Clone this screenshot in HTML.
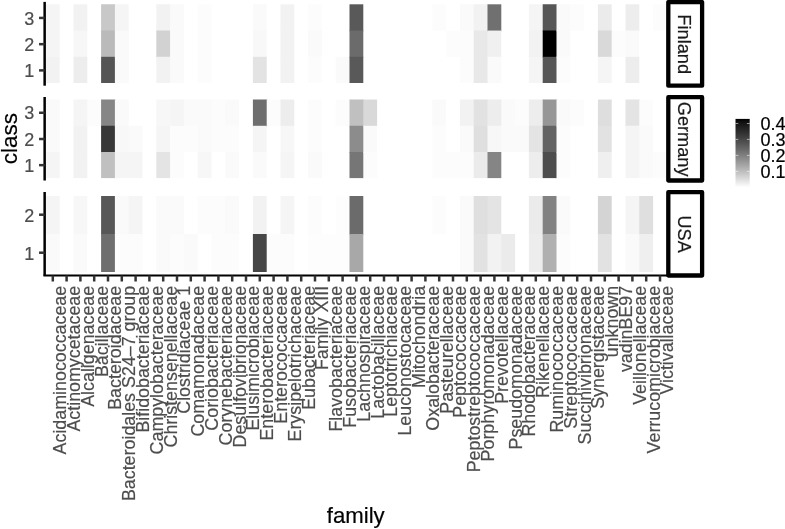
<!DOCTYPE html>
<html><head><meta charset="utf-8"><title>family by class heatmap</title>
<style>html,body{margin:0;padding:0;background:#fff;}svg{display:block;}</style></head>
<body>
<svg width="785" height="529" viewBox="0 0 785 529" font-family="'Liberation Sans', Arial, Helvetica, sans-serif">
<rect width="785" height="529" fill="#fff"/>
<g>
<rect x="45.90" y="4.30" width="13.80" height="26.95" fill="#f5f5f5"/>
<rect x="45.90" y="30.55" width="13.80" height="26.95" fill="#f5f5f5"/>
<rect x="45.90" y="56.80" width="13.80" height="26.20" fill="#f2f2f2"/>
<rect x="73.50" y="4.30" width="13.80" height="26.95" fill="#f2f2f2"/>
<rect x="73.50" y="30.55" width="13.80" height="26.95" fill="#f7f7f7"/>
<rect x="73.50" y="56.80" width="13.80" height="26.20" fill="#ededed"/>
<path d="M101.10 4.30h14.50v26.25h-0.70v0.70h-13.80z" fill="#c8c8c8"/>
<path d="M101.10 30.55h14.50v26.25h-0.70v0.70h-13.80z" fill="#bababa"/>
<rect x="101.10" y="56.80" width="14.50" height="26.20" fill="#555555"/>
<rect x="114.90" y="4.30" width="13.80" height="26.95" fill="#f5f5f5"/>
<rect x="114.90" y="30.55" width="13.80" height="26.95" fill="#fafafa"/>
<rect x="114.90" y="56.80" width="13.80" height="26.20" fill="#fafafa"/>
<path d="M156.30 4.30h14.50v26.25h-0.70v0.70h-13.80z" fill="#f2f2f2"/>
<path d="M156.30 30.55h14.50v26.25h-0.70v0.70h-13.80z" fill="#d2d2d2"/>
<rect x="156.30" y="56.80" width="14.50" height="26.20" fill="#f2f2f2"/>
<rect x="170.10" y="4.30" width="13.80" height="26.95" fill="#fafafa"/>
<rect x="170.10" y="30.55" width="13.80" height="26.95" fill="#fafafa"/>
<rect x="170.10" y="56.80" width="13.80" height="26.20" fill="#fafafa"/>
<rect x="197.70" y="4.30" width="13.80" height="26.95" fill="#fcfcfc"/>
<rect x="197.70" y="30.55" width="13.80" height="26.95" fill="#fcfcfc"/>
<rect x="197.70" y="56.80" width="13.80" height="26.20" fill="#fcfcfc"/>
<rect x="252.90" y="4.30" width="13.80" height="26.95" fill="#fafafa"/>
<rect x="252.90" y="30.55" width="13.80" height="26.95" fill="#f8f8f8"/>
<rect x="252.90" y="56.80" width="13.80" height="26.20" fill="#e3e3e3"/>
<rect x="280.50" y="4.30" width="13.80" height="26.95" fill="#f2f2f2"/>
<rect x="280.50" y="30.55" width="13.80" height="26.95" fill="#f2f2f2"/>
<rect x="280.50" y="56.80" width="13.80" height="26.20" fill="#f2f2f2"/>
<rect x="308.10" y="4.30" width="13.80" height="26.95" fill="#fcfcfc"/>
<rect x="308.10" y="30.55" width="13.80" height="26.95" fill="#fafafa"/>
<rect x="308.10" y="56.80" width="13.80" height="26.20" fill="#fcfcfc"/>
<rect x="335.70" y="56.80" width="14.50" height="26.20" fill="#fafafa"/>
<rect x="349.50" y="4.30" width="13.80" height="26.95" fill="#595959"/>
<rect x="349.50" y="30.55" width="13.80" height="26.95" fill="#6b6b6b"/>
<rect x="349.50" y="56.80" width="13.80" height="26.20" fill="#595959"/>
<rect x="432.30" y="4.30" width="13.80" height="26.25" fill="#fcfcfc"/>
<rect x="446.10" y="30.55" width="14.50" height="26.25" fill="#fcfcfc"/>
<path d="M459.90 4.30h14.50v26.25h-0.70v0.70h-13.80z" fill="#fafafa"/>
<path d="M459.90 30.55h14.50v26.25h-0.70v0.70h-13.80z" fill="#fcfcfc"/>
<rect x="459.90" y="56.80" width="14.50" height="26.20" fill="#fcfcfc"/>
<path d="M473.70 4.30h14.50v26.25h-0.70v0.70h-13.80z" fill="#f2f2f2"/>
<path d="M473.70 30.55h14.50v26.25h-0.70v0.70h-13.80z" fill="#e8e8e8"/>
<rect x="473.70" y="56.80" width="14.50" height="26.20" fill="#e8e8e8"/>
<rect x="487.50" y="4.30" width="13.80" height="26.95" fill="#707070"/>
<rect x="487.50" y="30.55" width="13.80" height="26.95" fill="#f0f0f0"/>
<rect x="487.50" y="56.80" width="13.80" height="26.20" fill="#fafafa"/>
<path d="M528.90 4.30h14.50v26.25h-0.70v0.70h-13.80z" fill="#f5f5f5"/>
<path d="M528.90 30.55h14.50v26.25h-0.70v0.70h-13.80z" fill="#f2f2f2"/>
<rect x="528.90" y="56.80" width="14.50" height="26.20" fill="#f5f5f5"/>
<path d="M542.70 4.30h14.50v26.25h-0.70v0.70h-13.80z" fill="#565656"/>
<path d="M542.70 30.55h14.50v26.25h-0.70v0.70h-13.80z" fill="#000000"/>
<rect x="542.70" y="56.80" width="14.50" height="26.20" fill="#565656"/>
<path d="M556.50 4.30h14.50v26.25h-0.70v0.70h-13.80z" fill="#fafafa"/>
<rect x="556.50" y="30.55" width="13.80" height="26.95" fill="#fafafa"/>
<rect x="556.50" y="56.80" width="13.80" height="26.20" fill="#fcfcfc"/>
<rect x="570.30" y="4.30" width="13.80" height="26.25" fill="#fcfcfc"/>
<rect x="597.90" y="4.30" width="13.80" height="26.95" fill="#ebebeb"/>
<path d="M597.90 30.55h14.50v26.25h-0.70v0.70h-13.80z" fill="#d9d9d9"/>
<rect x="597.90" y="56.80" width="13.80" height="26.20" fill="#f5f5f5"/>
<rect x="611.70" y="30.55" width="14.50" height="26.25" fill="#fcfcfc"/>
<rect x="625.50" y="4.30" width="13.80" height="26.95" fill="#ededed"/>
<rect x="625.50" y="30.55" width="13.80" height="26.95" fill="#fafafa"/>
<rect x="625.50" y="56.80" width="13.80" height="26.20" fill="#ededed"/>
<rect x="653.10" y="4.30" width="13.80" height="26.25" fill="#fcfcfc"/>
<rect x="45.90" y="99.55" width="13.80" height="26.95" fill="#fafafa"/>
<rect x="45.90" y="125.80" width="13.80" height="26.90" fill="#fafafa"/>
<rect x="45.90" y="152.00" width="13.80" height="26.10" fill="#f5f5f5"/>
<path d="M73.50 99.55h14.50v26.25h-0.70v0.70h-13.80z" fill="#f5f5f5"/>
<rect x="73.50" y="125.80" width="13.80" height="26.90" fill="#f2f2f2"/>
<rect x="73.50" y="152.00" width="13.80" height="26.10" fill="#f2f2f2"/>
<rect x="87.30" y="99.55" width="14.50" height="26.25" fill="#fcfcfc"/>
<path d="M101.10 99.55h14.50v26.25h-0.70v0.70h-13.80z" fill="#868686"/>
<path d="M101.10 125.80h14.50v26.20h-0.70v0.70h-13.80z" fill="#383838"/>
<rect x="101.10" y="152.00" width="14.50" height="26.10" fill="#c0c0c0"/>
<rect x="114.90" y="99.55" width="13.80" height="26.95" fill="#fafafa"/>
<path d="M114.90 125.80h14.50v26.20h-0.70v0.70h-13.80z" fill="#f8f8f8"/>
<rect x="114.90" y="152.00" width="14.50" height="26.10" fill="#f5f5f5"/>
<rect x="128.70" y="125.80" width="13.80" height="26.90" fill="#fafafa"/>
<rect x="128.70" y="152.00" width="13.80" height="26.10" fill="#f5f5f5"/>
<path d="M156.30 99.55h14.50v26.25h-0.70v0.70h-13.80z" fill="#f7f7f7"/>
<path d="M156.30 125.80h14.50v26.20h-0.70v0.70h-13.80z" fill="#f5f5f5"/>
<rect x="156.30" y="152.00" width="14.50" height="26.10" fill="#e4e4e4"/>
<path d="M170.10 99.55h14.50v26.25h-0.70v0.70h-13.80z" fill="#f5f5f5"/>
<path d="M170.10 125.80h14.50v26.20h-0.70v0.70h-13.80z" fill="#fcfcfc"/>
<rect x="170.10" y="152.00" width="13.80" height="26.10" fill="#fcfcfc"/>
<path d="M183.90 99.55h14.50v26.25h-0.70v0.70h-13.80z" fill="#fafafa"/>
<rect x="183.90" y="125.80" width="14.50" height="26.20" fill="#fcfcfc"/>
<path d="M197.70 99.55h14.50v26.25h-0.70v0.70h-13.80z" fill="#fafafa"/>
<path d="M197.70 125.80h14.50v26.20h-0.70v0.70h-13.80z" fill="#fafafa"/>
<rect x="197.70" y="152.00" width="13.80" height="26.10" fill="#f7f7f7"/>
<path d="M211.50 99.55h14.50v26.25h-0.70v0.70h-13.80z" fill="#fcfcfc"/>
<rect x="211.50" y="125.80" width="14.50" height="26.20" fill="#fcfcfc"/>
<rect x="225.30" y="99.55" width="13.80" height="26.95" fill="#fafafa"/>
<rect x="225.30" y="125.80" width="13.80" height="26.90" fill="#fcfcfc"/>
<rect x="225.30" y="152.00" width="13.80" height="26.10" fill="#fafafa"/>
<path d="M252.90 99.55h14.50v26.25h-0.70v0.70h-13.80z" fill="#6e6e6e"/>
<rect x="252.90" y="125.80" width="13.80" height="26.90" fill="#f5f5f5"/>
<rect x="252.90" y="152.00" width="13.80" height="26.10" fill="#fafafa"/>
<rect x="266.70" y="99.55" width="14.50" height="26.25" fill="#fcfcfc"/>
<rect x="280.50" y="99.55" width="13.80" height="26.95" fill="#ededed"/>
<rect x="280.50" y="125.80" width="13.80" height="26.90" fill="#f7f7f7"/>
<rect x="280.50" y="152.00" width="13.80" height="26.10" fill="#f5f5f5"/>
<rect x="308.10" y="99.55" width="13.80" height="26.95" fill="#fcfcfc"/>
<rect x="308.10" y="125.80" width="13.80" height="26.90" fill="#fcfcfc"/>
<rect x="308.10" y="152.00" width="13.80" height="26.10" fill="#fafafa"/>
<rect x="335.70" y="99.55" width="14.50" height="26.25" fill="#fcfcfc"/>
<path d="M349.50 99.55h14.50v26.25h-0.70v0.70h-13.80z" fill="#c0c0c0"/>
<path d="M349.50 125.80h14.50v26.20h-0.70v0.70h-13.80z" fill="#8c8c8c"/>
<rect x="349.50" y="152.00" width="14.50" height="26.10" fill="#767676"/>
<rect x="363.30" y="99.55" width="13.80" height="26.95" fill="#d9d9d9"/>
<rect x="363.30" y="125.80" width="13.80" height="26.90" fill="#fafafa"/>
<rect x="363.30" y="152.00" width="13.80" height="26.10" fill="#fcfcfc"/>
<rect x="432.30" y="99.55" width="13.80" height="26.95" fill="#fafafa"/>
<rect x="432.30" y="125.80" width="13.80" height="26.90" fill="#fcfcfc"/>
<rect x="432.30" y="152.00" width="14.50" height="26.10" fill="#fcfcfc"/>
<rect x="446.10" y="152.00" width="14.50" height="26.10" fill="#fcfcfc"/>
<path d="M459.90 99.55h14.50v26.25h-0.70v0.70h-13.80z" fill="#f2f2f2"/>
<path d="M459.90 125.80h14.50v26.20h-0.70v0.70h-13.80z" fill="#fafafa"/>
<rect x="459.90" y="152.00" width="14.50" height="26.10" fill="#fcfcfc"/>
<path d="M473.70 99.55h14.50v26.25h-0.70v0.70h-13.80z" fill="#e2e2e2"/>
<path d="M473.70 125.80h14.50v26.20h-0.70v0.70h-13.80z" fill="#dfdfdf"/>
<rect x="473.70" y="152.00" width="14.50" height="26.10" fill="#ebebeb"/>
<path d="M487.50 99.55h14.50v26.25h-0.70v0.70h-13.80z" fill="#ededed"/>
<path d="M487.50 125.80h14.50v26.20h-0.70v0.70h-13.80z" fill="#f7f7f7"/>
<rect x="487.50" y="152.00" width="13.80" height="26.10" fill="#858585"/>
<path d="M501.30 99.55h14.50v26.25h-0.70v0.70h-13.80z" fill="#fafafa"/>
<rect x="501.30" y="125.80" width="14.50" height="26.20" fill="#fafafa"/>
<path d="M515.10 99.55h14.50v26.25h-0.70v0.70h-13.80z" fill="#fcfcfc"/>
<rect x="515.10" y="125.80" width="14.50" height="26.20" fill="#fafafa"/>
<path d="M528.90 99.55h14.50v26.25h-0.70v0.70h-13.80z" fill="#ededed"/>
<path d="M528.90 125.80h14.50v26.20h-0.70v0.70h-13.80z" fill="#e4e4e4"/>
<rect x="528.90" y="152.00" width="14.50" height="26.10" fill="#ededed"/>
<path d="M542.70 99.55h14.50v26.25h-0.70v0.70h-13.80z" fill="#969696"/>
<path d="M542.70 125.80h14.50v26.20h-0.70v0.70h-13.80z" fill="#636363"/>
<rect x="542.70" y="152.00" width="14.50" height="26.10" fill="#4d4d4d"/>
<path d="M556.50 99.55h14.50v26.25h-0.70v0.70h-13.80z" fill="#fafafa"/>
<rect x="556.50" y="125.80" width="13.80" height="26.90" fill="#fcfcfc"/>
<rect x="556.50" y="152.00" width="13.80" height="26.10" fill="#fcfcfc"/>
<rect x="570.30" y="99.55" width="13.80" height="26.25" fill="#fcfcfc"/>
<rect x="597.90" y="99.55" width="13.80" height="26.95" fill="#dedede"/>
<rect x="597.90" y="125.80" width="13.80" height="26.90" fill="#e2e2e2"/>
<rect x="597.90" y="152.00" width="13.80" height="26.10" fill="#efefef"/>
<path d="M625.50 99.55h14.50v26.25h-0.70v0.70h-13.80z" fill="#e4e4e4"/>
<path d="M625.50 125.80h14.50v26.20h-0.70v0.70h-13.80z" fill="#f5f5f5"/>
<rect x="625.50" y="152.00" width="14.50" height="26.10" fill="#f5f5f5"/>
<rect x="639.30" y="99.55" width="13.80" height="26.95" fill="#fcfcfc"/>
<rect x="639.30" y="125.80" width="13.80" height="26.90" fill="#fafafa"/>
<rect x="639.30" y="152.00" width="14.50" height="26.10" fill="#fafafa"/>
<rect x="653.10" y="152.00" width="13.80" height="26.10" fill="#fcfcfc"/>
<rect x="45.90" y="196.00" width="13.80" height="38.70" fill="#f5f5f5"/>
<rect x="45.90" y="234.00" width="13.80" height="38.00" fill="#fafafa"/>
<rect x="73.50" y="196.00" width="13.80" height="38.70" fill="#f7f7f7"/>
<rect x="73.50" y="234.00" width="13.80" height="38.00" fill="#fafafa"/>
<path d="M101.10 196.00h14.50v38.00h-0.70v0.70h-13.80z" fill="#575757"/>
<rect x="101.10" y="234.00" width="14.50" height="38.00" fill="#6e6e6e"/>
<path d="M114.90 196.00h14.50v38.00h-0.70v0.70h-13.80z" fill="#fafafa"/>
<rect x="114.90" y="234.00" width="14.50" height="38.00" fill="#fcfcfc"/>
<rect x="128.70" y="196.00" width="13.80" height="38.70" fill="#f5f5f5"/>
<rect x="128.70" y="234.00" width="13.80" height="38.00" fill="#fcfcfc"/>
<path d="M156.30 196.00h14.50v38.00h-0.70v0.70h-13.80z" fill="#fafafa"/>
<rect x="156.30" y="234.00" width="14.50" height="38.00" fill="#fafafa"/>
<rect x="170.10" y="196.00" width="13.80" height="38.70" fill="#fafafa"/>
<rect x="170.10" y="234.00" width="14.50" height="38.00" fill="#fcfcfc"/>
<rect x="183.90" y="234.00" width="13.80" height="38.00" fill="#fafafa"/>
<rect x="197.70" y="196.00" width="14.50" height="38.00" fill="#fcfcfc"/>
<path d="M211.50 196.00h14.50v38.00h-0.70v0.70h-13.80z" fill="#fcfcfc"/>
<rect x="211.50" y="234.00" width="14.50" height="38.00" fill="#fcfcfc"/>
<rect x="225.30" y="196.00" width="13.80" height="38.70" fill="#fafafa"/>
<rect x="225.30" y="234.00" width="13.80" height="38.00" fill="#fcfcfc"/>
<rect x="252.90" y="196.00" width="13.80" height="38.70" fill="#f2f2f2"/>
<rect x="252.90" y="234.00" width="14.50" height="38.00" fill="#464646"/>
<rect x="266.70" y="234.00" width="14.50" height="38.00" fill="#fcfcfc"/>
<rect x="280.50" y="196.00" width="13.80" height="38.70" fill="#f5f5f5"/>
<rect x="280.50" y="234.00" width="13.80" height="38.00" fill="#fcfcfc"/>
<rect x="308.10" y="196.00" width="13.80" height="38.70" fill="#fcfcfc"/>
<rect x="308.10" y="234.00" width="14.50" height="38.00" fill="#fdfdfd"/>
<rect x="321.90" y="234.00" width="14.50" height="38.00" fill="#fdfdfd"/>
<path d="M335.70 196.00h14.50v38.00h-0.70v0.70h-13.80z" fill="#fdfdfd"/>
<rect x="335.70" y="234.00" width="14.50" height="38.00" fill="#fdfdfd"/>
<rect x="349.50" y="196.00" width="13.80" height="38.70" fill="#6b6b6b"/>
<rect x="349.50" y="234.00" width="13.80" height="38.00" fill="#a8a8a8"/>
<rect x="432.30" y="196.00" width="13.80" height="38.00" fill="#fcfcfc"/>
<path d="M459.90 196.00h14.50v38.00h-0.70v0.70h-13.80z" fill="#fafafa"/>
<rect x="459.90" y="234.00" width="14.50" height="38.00" fill="#fafafa"/>
<path d="M473.70 196.00h14.50v38.00h-0.70v0.70h-13.80z" fill="#dfdfdf"/>
<rect x="473.70" y="234.00" width="14.50" height="38.00" fill="#e2e2e2"/>
<rect x="487.50" y="196.00" width="13.80" height="38.70" fill="#e4e4e4"/>
<rect x="487.50" y="234.00" width="14.50" height="38.00" fill="#f2f2f2"/>
<rect x="501.30" y="234.00" width="13.80" height="38.00" fill="#ebebeb"/>
<path d="M528.90 196.00h14.50v38.00h-0.70v0.70h-13.80z" fill="#ebebeb"/>
<rect x="528.90" y="234.00" width="14.50" height="38.00" fill="#ededed"/>
<path d="M542.70 196.00h14.50v38.00h-0.70v0.70h-13.80z" fill="#828282"/>
<rect x="542.70" y="234.00" width="14.50" height="38.00" fill="#b0b0b0"/>
<rect x="556.50" y="196.00" width="13.80" height="38.70" fill="#fafafa"/>
<rect x="556.50" y="234.00" width="13.80" height="38.00" fill="#fcfcfc"/>
<rect x="597.90" y="196.00" width="13.80" height="38.70" fill="#d4d4d4"/>
<rect x="597.90" y="234.00" width="13.80" height="38.00" fill="#e2e2e2"/>
<path d="M625.50 196.00h14.50v38.00h-0.70v0.70h-13.80z" fill="#f5f5f5"/>
<rect x="625.50" y="234.00" width="14.50" height="38.00" fill="#fafafa"/>
<rect x="639.30" y="196.00" width="13.80" height="38.70" fill="#dfdfdf"/>
<rect x="639.30" y="234.00" width="13.80" height="38.00" fill="#efefef"/>
</g>
<line x1="44.65" x2="44.65" y1="1.90" y2="85.70" stroke="#000" stroke-width="2.50"/>
<line x1="39.05" x2="44.65" y1="17.93" y2="17.93" stroke="#333" stroke-width="2.50"/>
<text x="34.20" y="24.93" font-size="18.00" fill="#4d4d4d" stroke="#4d4d4d" stroke-width="0.2" text-anchor="end">3</text>
<line x1="39.05" x2="44.65" y1="44.17" y2="44.17" stroke="#333" stroke-width="2.50"/>
<text x="34.20" y="51.17" font-size="18.00" fill="#4d4d4d" stroke="#4d4d4d" stroke-width="0.2" text-anchor="end">2</text>
<line x1="39.05" x2="44.65" y1="70.40" y2="70.40" stroke="#333" stroke-width="2.50"/>
<text x="34.20" y="77.40" font-size="18.00" fill="#4d4d4d" stroke="#4d4d4d" stroke-width="0.2" text-anchor="end">1</text>
<line x1="44.65" x2="44.65" y1="97.00" y2="180.50" stroke="#000" stroke-width="2.50"/>
<line x1="39.05" x2="44.65" y1="112.77" y2="112.77" stroke="#333" stroke-width="2.50"/>
<text x="34.20" y="119.47" font-size="18.00" fill="#4d4d4d" stroke="#4d4d4d" stroke-width="0.2" text-anchor="end">3</text>
<line x1="39.05" x2="44.65" y1="139.00" y2="139.00" stroke="#333" stroke-width="2.50"/>
<text x="34.20" y="145.70" font-size="18.00" fill="#4d4d4d" stroke="#4d4d4d" stroke-width="0.2" text-anchor="end">2</text>
<line x1="39.05" x2="44.65" y1="165.15" y2="165.15" stroke="#333" stroke-width="2.50"/>
<text x="34.20" y="171.85" font-size="18.00" fill="#4d4d4d" stroke="#4d4d4d" stroke-width="0.2" text-anchor="end">1</text>
<line x1="44.65" x2="44.65" y1="192.00" y2="275.50" stroke="#000" stroke-width="2.50"/>
<line x1="39.05" x2="44.65" y1="214.70" y2="214.70" stroke="#333" stroke-width="2.50"/>
<text x="34.20" y="222.00" font-size="18.00" fill="#4d4d4d" stroke="#4d4d4d" stroke-width="0.2" text-anchor="end">2</text>
<line x1="39.05" x2="44.65" y1="252.70" y2="252.70" stroke="#333" stroke-width="2.50"/>
<text x="34.20" y="260.00" font-size="18.00" fill="#4d4d4d" stroke="#4d4d4d" stroke-width="0.2" text-anchor="end">1</text>
<line x1="43.40" x2="668.30" y1="275.50" y2="275.50" stroke="#000" stroke-width="2.10"/>
<line x1="52.80" x2="52.80" y1="275.50" y2="281.50" stroke="#333" stroke-width="2.50"/>
<text transform="translate(66.10,285.80) rotate(-90)" font-size="17.85" fill="#4d4d4d" stroke="#4d4d4d" stroke-width="0.2" text-anchor="end">Acidaminococcaceae</text>
<line x1="66.60" x2="66.60" y1="275.50" y2="281.50" stroke="#333" stroke-width="2.50"/>
<text transform="translate(79.90,285.80) rotate(-90)" font-size="17.85" fill="#4d4d4d" stroke="#4d4d4d" stroke-width="0.2" text-anchor="end">Actinomycetaceae</text>
<line x1="80.40" x2="80.40" y1="275.50" y2="281.50" stroke="#333" stroke-width="2.50"/>
<text transform="translate(93.70,285.80) rotate(-90)" font-size="17.85" fill="#4d4d4d" stroke="#4d4d4d" stroke-width="0.2" text-anchor="end">Alcaligenaceae</text>
<line x1="94.20" x2="94.20" y1="275.50" y2="281.50" stroke="#333" stroke-width="2.50"/>
<text transform="translate(107.50,285.80) rotate(-90)" font-size="17.85" fill="#4d4d4d" stroke="#4d4d4d" stroke-width="0.2" text-anchor="end">Bacillaceae</text>
<line x1="108.00" x2="108.00" y1="275.50" y2="281.50" stroke="#333" stroke-width="2.50"/>
<text transform="translate(121.30,285.80) rotate(-90)" font-size="17.85" fill="#4d4d4d" stroke="#4d4d4d" stroke-width="0.2" text-anchor="end">Bacteroidaceae</text>
<line x1="121.80" x2="121.80" y1="275.50" y2="281.50" stroke="#333" stroke-width="2.50"/>
<text transform="translate(135.10,285.80) rotate(-90)" font-size="17.85" fill="#4d4d4d" stroke="#4d4d4d" stroke-width="0.2" text-anchor="end">Bacteroidales S24–7 group</text>
<line x1="135.60" x2="135.60" y1="275.50" y2="281.50" stroke="#333" stroke-width="2.50"/>
<text transform="translate(148.90,285.80) rotate(-90)" font-size="17.85" fill="#4d4d4d" stroke="#4d4d4d" stroke-width="0.2" text-anchor="end">Bifidobacteriaceae</text>
<line x1="149.40" x2="149.40" y1="275.50" y2="281.50" stroke="#333" stroke-width="2.50"/>
<text transform="translate(162.70,285.80) rotate(-90)" font-size="17.85" fill="#4d4d4d" stroke="#4d4d4d" stroke-width="0.2" text-anchor="end">Campylobacteraceae</text>
<line x1="163.20" x2="163.20" y1="275.50" y2="281.50" stroke="#333" stroke-width="2.50"/>
<text transform="translate(176.50,285.80) rotate(-90)" font-size="17.85" fill="#4d4d4d" stroke="#4d4d4d" stroke-width="0.2" text-anchor="end">Christensenellaceae</text>
<line x1="177.00" x2="177.00" y1="275.50" y2="281.50" stroke="#333" stroke-width="2.50"/>
<text transform="translate(190.30,285.80) rotate(-90)" font-size="17.85" fill="#4d4d4d" stroke="#4d4d4d" stroke-width="0.2" text-anchor="end">Clostridiaceae 1</text>
<line x1="190.80" x2="190.80" y1="275.50" y2="281.50" stroke="#333" stroke-width="2.50"/>
<text transform="translate(204.10,285.80) rotate(-90)" font-size="17.85" fill="#4d4d4d" stroke="#4d4d4d" stroke-width="0.2" text-anchor="end">Comamonadaceae</text>
<line x1="204.60" x2="204.60" y1="275.50" y2="281.50" stroke="#333" stroke-width="2.50"/>
<text transform="translate(217.90,285.80) rotate(-90)" font-size="17.85" fill="#4d4d4d" stroke="#4d4d4d" stroke-width="0.2" text-anchor="end">Coriobacteriaceae</text>
<line x1="218.40" x2="218.40" y1="275.50" y2="281.50" stroke="#333" stroke-width="2.50"/>
<text transform="translate(231.70,285.80) rotate(-90)" font-size="17.85" fill="#4d4d4d" stroke="#4d4d4d" stroke-width="0.2" text-anchor="end">Corynebacteriaceae</text>
<line x1="232.20" x2="232.20" y1="275.50" y2="281.50" stroke="#333" stroke-width="2.50"/>
<text transform="translate(245.50,285.80) rotate(-90)" font-size="17.85" fill="#4d4d4d" stroke="#4d4d4d" stroke-width="0.2" text-anchor="end">Desulfovibrionaceae</text>
<line x1="246.00" x2="246.00" y1="275.50" y2="281.50" stroke="#333" stroke-width="2.50"/>
<text transform="translate(259.30,285.80) rotate(-90)" font-size="17.85" fill="#4d4d4d" stroke="#4d4d4d" stroke-width="0.2" text-anchor="end">Elusimicrobiaceae</text>
<line x1="259.80" x2="259.80" y1="275.50" y2="281.50" stroke="#333" stroke-width="2.50"/>
<text transform="translate(273.10,285.80) rotate(-90)" font-size="17.85" fill="#4d4d4d" stroke="#4d4d4d" stroke-width="0.2" text-anchor="end">Enterobacteriaceae</text>
<line x1="273.60" x2="273.60" y1="275.50" y2="281.50" stroke="#333" stroke-width="2.50"/>
<text transform="translate(286.90,285.80) rotate(-90)" font-size="17.85" fill="#4d4d4d" stroke="#4d4d4d" stroke-width="0.2" text-anchor="end">Enterococcaceae</text>
<line x1="287.40" x2="287.40" y1="275.50" y2="281.50" stroke="#333" stroke-width="2.50"/>
<text transform="translate(300.70,285.80) rotate(-90)" font-size="17.85" fill="#4d4d4d" stroke="#4d4d4d" stroke-width="0.2" text-anchor="end">Erysipelotrichaceae</text>
<line x1="301.20" x2="301.20" y1="275.50" y2="281.50" stroke="#333" stroke-width="2.50"/>
<text transform="translate(314.50,285.80) rotate(-90)" font-size="17.85" fill="#4d4d4d" stroke="#4d4d4d" stroke-width="0.2" text-anchor="end">Eubacteriaceae</text>
<line x1="315.00" x2="315.00" y1="275.50" y2="281.50" stroke="#333" stroke-width="2.50"/>
<text transform="translate(328.30,285.80) rotate(-90)" font-size="17.85" fill="#4d4d4d" stroke="#4d4d4d" stroke-width="0.2" text-anchor="end">Family XIII</text>
<line x1="328.80" x2="328.80" y1="275.50" y2="281.50" stroke="#333" stroke-width="2.50"/>
<text transform="translate(342.10,285.80) rotate(-90)" font-size="17.85" fill="#4d4d4d" stroke="#4d4d4d" stroke-width="0.2" text-anchor="end">Flavobacteriaceae</text>
<line x1="342.60" x2="342.60" y1="275.50" y2="281.50" stroke="#333" stroke-width="2.50"/>
<text transform="translate(355.90,285.80) rotate(-90)" font-size="17.85" fill="#4d4d4d" stroke="#4d4d4d" stroke-width="0.2" text-anchor="end">Fusobacteriaceae</text>
<line x1="356.40" x2="356.40" y1="275.50" y2="281.50" stroke="#333" stroke-width="2.50"/>
<text transform="translate(369.70,285.80) rotate(-90)" font-size="17.85" fill="#4d4d4d" stroke="#4d4d4d" stroke-width="0.2" text-anchor="end">Lachnospiraceae</text>
<line x1="370.20" x2="370.20" y1="275.50" y2="281.50" stroke="#333" stroke-width="2.50"/>
<text transform="translate(383.50,285.80) rotate(-90)" font-size="17.85" fill="#4d4d4d" stroke="#4d4d4d" stroke-width="0.2" text-anchor="end">Lactobacillaceae</text>
<line x1="384.00" x2="384.00" y1="275.50" y2="281.50" stroke="#333" stroke-width="2.50"/>
<text transform="translate(397.30,285.80) rotate(-90)" font-size="17.85" fill="#4d4d4d" stroke="#4d4d4d" stroke-width="0.2" text-anchor="end">Leptotrichiaceae</text>
<line x1="397.80" x2="397.80" y1="275.50" y2="281.50" stroke="#333" stroke-width="2.50"/>
<text transform="translate(411.10,285.80) rotate(-90)" font-size="17.85" fill="#4d4d4d" stroke="#4d4d4d" stroke-width="0.2" text-anchor="end">Leuconostocaceae</text>
<line x1="411.60" x2="411.60" y1="275.50" y2="281.50" stroke="#333" stroke-width="2.50"/>
<text transform="translate(424.90,285.80) rotate(-90)" font-size="17.85" fill="#4d4d4d" stroke="#4d4d4d" stroke-width="0.2" text-anchor="end">Mitochondria</text>
<line x1="425.40" x2="425.40" y1="275.50" y2="281.50" stroke="#333" stroke-width="2.50"/>
<text transform="translate(438.70,285.80) rotate(-90)" font-size="17.85" fill="#4d4d4d" stroke="#4d4d4d" stroke-width="0.2" text-anchor="end">Oxalobacteraceae</text>
<line x1="439.20" x2="439.20" y1="275.50" y2="281.50" stroke="#333" stroke-width="2.50"/>
<text transform="translate(452.50,285.80) rotate(-90)" font-size="17.85" fill="#4d4d4d" stroke="#4d4d4d" stroke-width="0.2" text-anchor="end">Pasteurellaceae</text>
<line x1="453.00" x2="453.00" y1="275.50" y2="281.50" stroke="#333" stroke-width="2.50"/>
<text transform="translate(466.30,285.80) rotate(-90)" font-size="17.85" fill="#4d4d4d" stroke="#4d4d4d" stroke-width="0.2" text-anchor="end">Peptococcaceae</text>
<line x1="466.80" x2="466.80" y1="275.50" y2="281.50" stroke="#333" stroke-width="2.50"/>
<text transform="translate(480.10,285.80) rotate(-90)" font-size="17.85" fill="#4d4d4d" stroke="#4d4d4d" stroke-width="0.2" text-anchor="end">Peptostreptococcaceae</text>
<line x1="480.60" x2="480.60" y1="275.50" y2="281.50" stroke="#333" stroke-width="2.50"/>
<text transform="translate(493.90,285.80) rotate(-90)" font-size="17.85" fill="#4d4d4d" stroke="#4d4d4d" stroke-width="0.2" text-anchor="end">Porphyromonadaceae</text>
<line x1="494.40" x2="494.40" y1="275.50" y2="281.50" stroke="#333" stroke-width="2.50"/>
<text transform="translate(507.70,285.80) rotate(-90)" font-size="17.85" fill="#4d4d4d" stroke="#4d4d4d" stroke-width="0.2" text-anchor="end">Prevotellaceae</text>
<line x1="508.20" x2="508.20" y1="275.50" y2="281.50" stroke="#333" stroke-width="2.50"/>
<text transform="translate(521.50,285.80) rotate(-90)" font-size="17.85" fill="#4d4d4d" stroke="#4d4d4d" stroke-width="0.2" text-anchor="end">Pseudomonadaceae</text>
<line x1="522.00" x2="522.00" y1="275.50" y2="281.50" stroke="#333" stroke-width="2.50"/>
<text transform="translate(535.30,285.80) rotate(-90)" font-size="17.85" fill="#4d4d4d" stroke="#4d4d4d" stroke-width="0.2" text-anchor="end">Rhodobacteraceae</text>
<line x1="535.80" x2="535.80" y1="275.50" y2="281.50" stroke="#333" stroke-width="2.50"/>
<text transform="translate(549.10,285.80) rotate(-90)" font-size="17.85" fill="#4d4d4d" stroke="#4d4d4d" stroke-width="0.2" text-anchor="end">Rikenellaceae</text>
<line x1="549.60" x2="549.60" y1="275.50" y2="281.50" stroke="#333" stroke-width="2.50"/>
<text transform="translate(562.90,285.80) rotate(-90)" font-size="17.85" fill="#4d4d4d" stroke="#4d4d4d" stroke-width="0.2" text-anchor="end">Ruminococcaceae</text>
<line x1="563.40" x2="563.40" y1="275.50" y2="281.50" stroke="#333" stroke-width="2.50"/>
<text transform="translate(576.70,285.80) rotate(-90)" font-size="17.85" fill="#4d4d4d" stroke="#4d4d4d" stroke-width="0.2" text-anchor="end">Streptococcaceae</text>
<line x1="577.20" x2="577.20" y1="275.50" y2="281.50" stroke="#333" stroke-width="2.50"/>
<text transform="translate(590.50,285.80) rotate(-90)" font-size="17.85" fill="#4d4d4d" stroke="#4d4d4d" stroke-width="0.2" text-anchor="end">Succinivibrionaceae</text>
<line x1="591.00" x2="591.00" y1="275.50" y2="281.50" stroke="#333" stroke-width="2.50"/>
<text transform="translate(604.30,285.80) rotate(-90)" font-size="17.85" fill="#4d4d4d" stroke="#4d4d4d" stroke-width="0.2" text-anchor="end">Synergistaceae</text>
<line x1="604.80" x2="604.80" y1="275.50" y2="281.50" stroke="#333" stroke-width="2.50"/>
<text transform="translate(618.10,285.80) rotate(-90)" font-size="17.85" fill="#4d4d4d" stroke="#4d4d4d" stroke-width="0.2" text-anchor="end">unknown</text>
<line x1="618.60" x2="618.60" y1="275.50" y2="281.50" stroke="#333" stroke-width="2.50"/>
<text transform="translate(631.90,285.80) rotate(-90)" font-size="17.85" fill="#4d4d4d" stroke="#4d4d4d" stroke-width="0.2" text-anchor="end">vadinBE97</text>
<line x1="632.40" x2="632.40" y1="275.50" y2="281.50" stroke="#333" stroke-width="2.50"/>
<text transform="translate(645.70,285.80) rotate(-90)" font-size="17.85" fill="#4d4d4d" stroke="#4d4d4d" stroke-width="0.2" text-anchor="end">Veillonellaceae</text>
<line x1="646.20" x2="646.20" y1="275.50" y2="281.50" stroke="#333" stroke-width="2.50"/>
<text transform="translate(659.50,285.80) rotate(-90)" font-size="17.85" fill="#4d4d4d" stroke="#4d4d4d" stroke-width="0.2" text-anchor="end">Verrucomicrobiaceae</text>
<line x1="660.00" x2="660.00" y1="275.50" y2="281.50" stroke="#333" stroke-width="2.50"/>
<text transform="translate(673.30,285.80) rotate(-90)" font-size="17.85" fill="#4d4d4d" stroke="#4d4d4d" stroke-width="0.2" text-anchor="end">Victivallaceae</text>
<rect x="668.30" y="2.10" width="33.80" height="83.60" fill="#fff" stroke="#000" stroke-width="4.3" stroke-linejoin="round"/>
<text transform="translate(677.90,44.20) rotate(90)" font-size="18.20" fill="#1a1a1a" stroke="#1a1a1a" stroke-width="0.2" text-anchor="middle">Finland</text>
<rect x="668.30" y="97.20" width="33.80" height="83.30" fill="#fff" stroke="#000" stroke-width="4.3" stroke-linejoin="round"/>
<text transform="translate(677.90,139.15) rotate(90)" font-size="18.20" fill="#1a1a1a" stroke="#1a1a1a" stroke-width="0.2" text-anchor="middle">Germany</text>
<rect x="668.30" y="192.20" width="33.80" height="83.30" fill="#fff" stroke="#000" stroke-width="4.3" stroke-linejoin="round"/>
<text transform="translate(677.90,234.15) rotate(90)" font-size="18.20" fill="#1a1a1a" stroke="#1a1a1a" stroke-width="0.2" text-anchor="middle">USA</text>
<text transform="translate(16.6,138.7) rotate(-90)" font-size="22.5" fill="#000" stroke="#000" stroke-width="0.2" text-anchor="middle">class</text>
<text x="355.7" y="523.4" font-size="22.2" fill="#000" stroke="#000" stroke-width="0.2" text-anchor="middle">family</text>
<defs><linearGradient id="lg" x1="0" y1="0" x2="0" y2="1"><stop offset="0.000" stop-color="#000000"/><stop offset="0.050" stop-color="#111111"/><stop offset="0.100" stop-color="#1b1b1b"/><stop offset="0.150" stop-color="#262626"/><stop offset="0.200" stop-color="#303030"/><stop offset="0.250" stop-color="#3b3b3b"/><stop offset="0.300" stop-color="#474747"/><stop offset="0.350" stop-color="#525252"/><stop offset="0.400" stop-color="#5e5e5e"/><stop offset="0.450" stop-color="#6a6a6a"/><stop offset="0.500" stop-color="#777777"/><stop offset="0.550" stop-color="#848484"/><stop offset="0.600" stop-color="#919191"/><stop offset="0.650" stop-color="#9e9e9e"/><stop offset="0.700" stop-color="#ababab"/><stop offset="0.750" stop-color="#b9b9b9"/><stop offset="0.800" stop-color="#c6c6c6"/><stop offset="0.850" stop-color="#d4d4d4"/><stop offset="0.900" stop-color="#e2e2e2"/><stop offset="0.950" stop-color="#f1f1f1"/><stop offset="1.000" stop-color="#ffffff"/></linearGradient></defs>
<rect x="735.5" y="118.9" width="14.2" height="68.4" fill="url(#lg)"/>
<line x1="735.5" x2="738.3" y1="123.50" y2="123.50" stroke="#fff" stroke-width="0.7" stroke-opacity="0.8"/>
<line x1="746.9" x2="749.7" y1="123.50" y2="123.50" stroke="#fff" stroke-width="0.7" stroke-opacity="0.8"/>
<text x="760.6" y="129.90" font-size="18.00" fill="#000" stroke="#000" stroke-width="0.2">0.4</text>
<line x1="735.5" x2="738.3" y1="139.40" y2="139.40" stroke="#fff" stroke-width="0.7" stroke-opacity="0.8"/>
<line x1="746.9" x2="749.7" y1="139.40" y2="139.40" stroke="#fff" stroke-width="0.7" stroke-opacity="0.8"/>
<text x="760.6" y="145.80" font-size="18.00" fill="#000" stroke="#000" stroke-width="0.2">0.3</text>
<line x1="735.5" x2="738.3" y1="155.40" y2="155.40" stroke="#fff" stroke-width="0.7" stroke-opacity="0.8"/>
<line x1="746.9" x2="749.7" y1="155.40" y2="155.40" stroke="#fff" stroke-width="0.7" stroke-opacity="0.8"/>
<text x="760.6" y="161.80" font-size="18.00" fill="#000" stroke="#000" stroke-width="0.2">0.2</text>
<line x1="735.5" x2="738.3" y1="171.40" y2="171.40" stroke="#fff" stroke-width="0.7" stroke-opacity="0.8"/>
<line x1="746.9" x2="749.7" y1="171.40" y2="171.40" stroke="#fff" stroke-width="0.7" stroke-opacity="0.8"/>
<text x="760.6" y="177.80" font-size="18.00" fill="#000" stroke="#000" stroke-width="0.2">0.1</text>
</svg>
</body></html>
